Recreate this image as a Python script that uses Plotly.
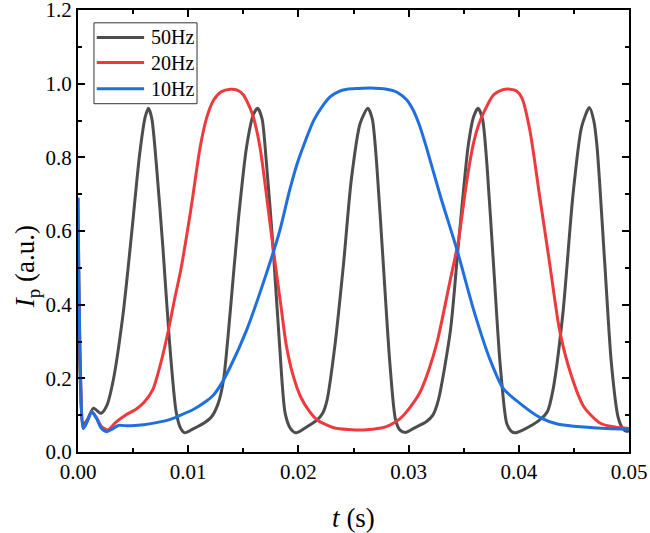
import plotly.graph_objects as go

# ---- data ----
t_50 = [0.0000, 0.0002, 0.0005, 0.0009, 0.0014, 0.0021, 0.0026, 0.0032, 0.0041, 0.0049,
        0.0056, 0.0061, 0.0064, 0.0067, 0.0071, 0.0077, 0.0083, 0.0089, 0.0093, 0.0097,
        0.0104, 0.0114, 0.0121, 0.0127, 0.0132, 0.0138, 0.01455, 0.0153, 0.0159, 0.0163,
        0.0167, 0.0171, 0.0177, 0.0183, 0.0188, 0.0193, 0.0198, 0.0206, 0.0217, 0.0222,
        0.0226, 0.0233, 0.0241, 0.0248, 0.0256, 0.0263, 0.0267, 0.0271, 0.0277, 0.0283,
        0.0288, 0.0292, 0.0297, 0.0305, 0.0316, 0.0322, 0.0327, 0.0338, 0.0345, 0.0354,
        0.0359, 0.0363, 0.0367, 0.0371, 0.0377, 0.0383, 0.0389, 0.0393, 0.0397, 0.0404,
        0.0419, 0.0426, 0.0431, 0.0440, 0.0449, 0.0457, 0.0464, 0.0468, 0.0471, 0.0478,
        0.0484, 0.0490, 0.0494, 0.0497, 0.0500]
i_50 = [0.62, 0.20, 0.075, 0.09, 0.119, 0.105, 0.125, 0.195, 0.377, 0.603,
        0.81, 0.91, 0.933, 0.905, 0.785, 0.557, 0.30, 0.11, 0.065, 0.052,
        0.062, 0.078, 0.095, 0.13, 0.195, 0.376, 0.63, 0.829, 0.915, 0.933,
        0.905, 0.784, 0.557, 0.286, 0.105, 0.063, 0.052, 0.065, 0.087, 0.105,
        0.141, 0.286, 0.512, 0.739, 0.892, 0.933, 0.905, 0.784, 0.512, 0.241,
        0.09, 0.06, 0.053, 0.065, 0.082, 0.10, 0.141, 0.331, 0.557, 0.829,
        0.91, 0.933, 0.905, 0.784, 0.512, 0.241, 0.078, 0.057, 0.052, 0.06,
        0.087, 0.11, 0.168, 0.376, 0.693, 0.883, 0.935, 0.90, 0.829, 0.512,
        0.241, 0.096, 0.065, 0.057, 0.056]

t_20 = [0.0000, 0.0002, 0.00048, 0.0008, 0.00124, 0.0017, 0.0021, 0.0027, 0.0034, 0.0043,
        0.0052, 0.0060, 0.0068, 0.0075, 0.0082, 0.0088, 0.0093, 0.0102, 0.0111, 0.0117,
        0.0123, 0.0130, 0.0138, 0.0145, 0.0150, 0.0158, 0.0165, 0.0173, 0.0179, 0.0184,
        0.0189, 0.0195, 0.0202, 0.0210, 0.0217, 0.0232, 0.0259, 0.0275, 0.0283, 0.0292,
        0.0301, 0.0310, 0.0318, 0.0326, 0.0338, 0.0345, 0.0353, 0.0359, 0.0365, 0.0377,
        0.0385, 0.0392, 0.0398, 0.0403, 0.0410, 0.0419, 0.0428, 0.0437, 0.0447, 0.0459,
        0.0474, 0.0488, 0.0500]
i_20 = [0.69, 0.25, 0.066, 0.082, 0.11, 0.092, 0.07, 0.06, 0.08, 0.10,
        0.115, 0.135, 0.17, 0.24, 0.33, 0.42, 0.49, 0.65, 0.83, 0.91,
        0.955, 0.978, 0.985, 0.982, 0.97, 0.92, 0.83, 0.65, 0.51, 0.40,
        0.29, 0.21, 0.15, 0.11, 0.087, 0.066, 0.06, 0.065, 0.073, 0.09,
        0.12, 0.16, 0.22, 0.30, 0.47, 0.57, 0.74, 0.84, 0.90, 0.969,
        0.983, 0.985, 0.98, 0.96, 0.874, 0.693, 0.512, 0.331, 0.214, 0.123,
        0.078, 0.067, 0.064]

t_10 = [0.0000, 0.0002, 0.00048, 0.0008, 0.00124, 0.0017, 0.0021, 0.0026, 0.0031, 0.00366,
        0.0045, 0.0052, 0.0060, 0.0070, 0.0083, 0.0093, 0.0105, 0.0115, 0.0123, 0.0130,
        0.0138, 0.0153, 0.0171, 0.0183, 0.0192, 0.0199, 0.0207, 0.0214, 0.0222, 0.0229,
        0.0236, 0.0244, 0.0255, 0.0265, 0.0274, 0.0280, 0.0286, 0.0291, 0.0298, 0.0304,
        0.0310, 0.0316, 0.0329, 0.0344, 0.0359, 0.0374, 0.0386, 0.0401, 0.0419, 0.0435,
        0.0450, 0.0480, 0.0500]
i_10 = [0.69, 0.25, 0.064, 0.08, 0.109, 0.09, 0.065, 0.055, 0.062, 0.072,
        0.071, 0.072, 0.074, 0.079, 0.088, 0.100, 0.116, 0.135, 0.155, 0.185,
        0.23, 0.331, 0.485, 0.60, 0.71, 0.784, 0.85, 0.901, 0.94, 0.965,
        0.978, 0.985, 0.987, 0.988, 0.987, 0.985, 0.981, 0.974, 0.957, 0.929,
        0.886, 0.829, 0.693, 0.548, 0.386, 0.25, 0.172, 0.132, 0.094, 0.076,
        0.07, 0.064, 0.062]

names = ["50Hz", "20Hz", "10Hz"]
colors = ["#4d4d4d", "#ee3a3c", "#1f6fde"]

x_ticks = [0.00, 0.01, 0.02, 0.03, 0.04, 0.05]
x_labels = ["0.00", "0.01", "0.02", "0.03", "0.04", "0.05"]
y_ticks = [0.0, 0.2, 0.4, 0.6, 0.8, 1.0, 1.2]
y_labels = ["0.0", "0.2", "0.4", "0.6", "0.8", "1.0", "1.2"]
y_title = "<i>I</i><sub>p</sub> (a.u.)"
x_title = "<i>t</i> (s)"

FONT = "Liberation Serif"

fig = go.Figure()
for t, i, n, c in zip([t_50, t_20, t_10], [i_50, i_20, i_10], names, colors):
    fig.add_trace(go.Scatter(x=t, y=i, name=n, mode="lines", showlegend=False,
                             line=dict(color=c, width=3, shape="spline", smoothing=0.7)))

# legend box drawn in paper coordinates (layout only, not data)
LEG_X0, LEG_X1, LEG_Y0, LEG_Y1 = 0.029, 0.216, 0.788, 0.971
LEG_ROWS = [0.938, 0.881, 0.822]
LEG_LINE = (0.034, 0.120)
LEG_TEXT_X = 0.128

fig.add_shape(type="rect", xref="paper", yref="paper",
              x0=LEG_X0, x1=LEG_X1, y0=LEG_Y0, y1=LEG_Y1,
              line=dict(color="#333333", width=1), fillcolor="white", layer="above")
for n, c, ry in zip(names, colors, LEG_ROWS):
    fig.add_shape(type="line", xref="paper", yref="paper",
                  x0=LEG_LINE[0], x1=LEG_LINE[1], y0=ry, y1=ry,
                  line=dict(color=c, width=3), layer="above")
    fig.add_annotation(xref="paper", yref="paper", x=LEG_TEXT_X, y=ry,
                       xanchor="left", yanchor="middle", showarrow=False, text=n,
                       font=dict(family=FONT, size=20, color="black"))

# y-axis title as rotated text, placed as in the reference
fig.add_annotation(xref="paper", yref="paper", x=-0.091, y=0.42,
                   xanchor="center", yanchor="middle", showarrow=False,
                   textangle=-90, text=y_title,
                   font=dict(family=FONT, size=27, color="black"))

axis_common = dict(showline=True, linecolor="black", linewidth=2, mirror="ticks",
                   ticks="inside", ticklen=7, tickwidth=1.5, tickcolor="black",
                   showgrid=False, zeroline=False, automargin=False,
                   ticklabeloverflow="allow",
                   tickfont=dict(family=FONT, size=21, color="black"))

fig.update_xaxes(range=[0, 0.05], tickvals=x_ticks, ticktext=x_labels,
                 minor=dict(ticks="inside", ticklen=4, tickwidth=1.5, tickcolor="black", dtick=0.005),
                 title=dict(text=x_title, font=dict(family=FONT, size=27, color="black"), standoff=25),
                 **axis_common)
fig.update_yaxes(range=[0, 1.2], tickvals=y_ticks, ticktext=y_labels,
                 minor=dict(ticks="inside", ticklen=4, tickwidth=1.5, tickcolor="black", dtick=0.1),
                 **axis_common)

fig.update_layout(
    width=650, height=533,
    margin=dict(l=78, r=21, t=10, b=81),
    paper_bgcolor="white", plot_bgcolor="white",
    font=dict(family=FONT, color="black"),
    showlegend=False,
)

fig.write_html("out.html")
